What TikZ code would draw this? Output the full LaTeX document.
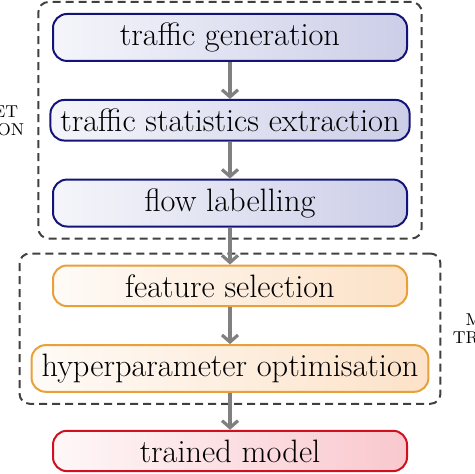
\documentclass[tikz,border=0pt]{standalone}
\usepackage{amsmath}
\usetikzlibrary{positioning,fit,arrows.meta}
\definecolor{blueline}{RGB}{20,20,120}
\definecolor{bluefill}{RGB}{204,206,232}
\definecolor{orangeline}{RGB}{232,160,56}
\definecolor{orangefill}{RGB}{252,226,200}
\definecolor{redline}{RGB}{208,16,30}
\definecolor{redfill}{RGB}{249,200,206}

\begin{document}
\begin{tikzpicture}[
  stepblue/.style={draw=blueline, line width=1pt, rounded corners=7pt, left color=bluefill!20, right color=bluefill, inner xsep=5pt, inner ysep=4.4pt, minimum width=177pt, font=\fontsize{16.2}{19}\selectfont},
  steporange/.style={stepblue, draw=orangeline, left color=orangefill!15, right color=orangefill},
  stepred/.style={stepblue, draw=redline, left color=redfill!15, right color=redfill},
  groupbox/.style={draw=black!75, line width=1pt, dash pattern=on 4pt off 2.5pt, rounded corners=5pt, inner sep=5.5pt},
  grouplabel/.style={align=center, font=\fontsize{8.6}{9.2}\selectfont, inner sep=2.5pt},
  flow/.style={draw=gray, line width=1.6pt, -{Straight Barb[length=3.5pt,width=8pt]}}
]
\useasboundingbox (0,0) rectangle (237pt,-237pt);
\node[stepblue, anchor=north] (gen) at (115pt,-6.5pt) {traffic generation};
\node[stepblue, below=18.5pt of gen] (stat) {traffic statistics extraction};
\node[stepblue, below=18.5pt of stat] (label) {flow labelling};
\node[steporange, below=18.5pt of label] (feat) {feature selection};
\node[steporange, below=18.5pt of feat] (hyper) {hyperparameter optimisation};
\node[stepred, below=18.5pt of hyper] (model) {trained model};
\node[groupbox, fit=(gen)(stat)(label)] (dataset) {};
\node[groupbox, fit=(feat)(hyper)] (training) {};
\node[grouplabel, left=4pt of dataset] (datasetlbl) {DATASET\\CREATION};
\node[grouplabel, right=3pt of training] (traininglbl) {MODEL\\TRAINING};
\draw[flow] (gen) -- (stat);
\draw[flow] (stat) -- (label);
\draw[flow] (label) -- (feat);
\draw[flow] (feat) -- (hyper);
\draw[flow] (hyper) -- (model);
\end{tikzpicture}
\end{document}
